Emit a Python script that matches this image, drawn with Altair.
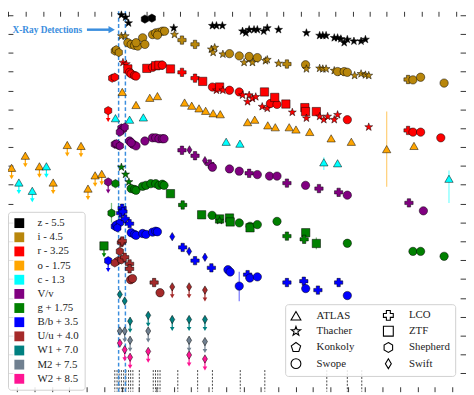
import altair as alt
import pandas as pd

# ---------------- axis / frame values ----------------
XMIN, XMAX = -0.525, 25.788          # days
YMIN, YMAX = 4.807, 24.964           # magnitude (offset)
BOTTOM_TICKS = list(range(0, 26))
TOP_TICKS = [-0.50, 0.49, 1.48, 2.47, 3.46, 4.44, 5.43, 6.42, 7.41, 8.40, 9.38, 10.37, 11.36,
             12.35, 13.34, 14.33, 15.31, 16.30, 17.29, 18.28, 19.27, 20.26, 21.24, 22.23,
             23.22, 24.21, 25.20]
MAG_TICKS = list(range(5, 25))

BAND_LABELS = ["z - 5.5", "i - 4.5", "r - 3.25", "o - 1.75", "c - 1.3", "V/v", "g + 1.75",
               "B/b + 3.5", "U/u + 4.0", "W1 + 7.0", "M2 + 7.5", "W2 + 8.5"]
BAND_COLORS = ["#000000", "#b8860b", "#ff0000", "#ffa500", "#00ffff", "#800080", "#008000",
               "#0000ff", "#a52a2a", "#008080", "#708090", "#ff1493"]

TEL_NAMES = {"A": "ATLAS", "T": "Thacher", "K": "Konkoly", "S": "Swope",
             "L": "LCO", "Z": "ZTF", "H": "Shepherd", "W": "Swift"}
LEGEND_ORDER = ["ATLAS", "Thacher", "Konkoly", "Swope", "LCO", "ZTF", "Shepherd", "Swift"]
SHAPE_PATHS = {
    "ATLAS": "triangle-up",
    "LCO": "cross",
    "Thacher": "M0,-1L0.235,-0.324L0.951,-0.309L0.380,0.124L0.588,0.809L0,0.4L-0.588,0.809L-0.380,0.124L-0.951,-0.309L-0.235,-0.324Z",
    "ZTF": "square",
    "Konkoly": "M0,-1L0.951,-0.309L0.588,0.809L-0.588,0.809L-0.951,-0.309Z",
    "Shepherd": "M0,-1L0.866,-0.5L0.866,0.5L0,1L-0.866,0.5L-0.866,-0.5Z",
    "Swope": "circle",
    "Swift": "M0,-1L0.6,0L0,1L-0.6,0Z",
}

# ---------------- photometry (day, mag, telescope) ----------------
Z_PTS = [(5.99, 5.00, "T"), (6.23, 5.12, "T"), (6.40, 5.43, "T"), (7.34, 5.22, "H"), (7.74, 5.17, "H"),
         (9.00, 5.69, "T"), (11.22, 5.57, "T"), (11.45, 5.57, "T"), (11.79, 5.57, "T"), (12.95, 5.86, "T"),
         (13.14, 5.95, "T"), (13.33, 5.78, "T"), (13.61, 5.78, "T"), (13.80, 5.78, "T"), (14.17, 5.86, "T"),
         (14.37, 5.69, "T"), (15.02, 5.78, "T"), (16.62, 5.95, "T"), (17.38, 6.09, "T"), (17.56, 6.09, "T"),
         (17.75, 6.09, "T"), (18.22, 6.21, "T"), (18.41, 6.21, "T"), (18.60, 6.27, "T"), (18.79, 6.47, "T"),
         (18.97, 6.30, "T"), (19.35, 6.39, "T"), (19.76, 6.39, "T"), (20.01, 6.30, "T")]
I_PTS = [(5.61, 6.91, "H"), (5.69, 6.84, "H"), (5.84, 6.99, "H"), (5.99, 6.12, "T"), (6.21, 6.12, "T"),
         (6.36, 6.47, "S"), (6.55, 6.56, "S"), (6.74, 6.61, "S"), (6.93, 6.65, "S"), (6.83, 6.47, "S"),
         (7.21, 6.21, "S"), (7.34, 6.56, "S"), (7.78, 6.04, "S"), (7.96, 5.95, "S"), (8.15, 5.92, "S"),
         (8.34, 5.86, "S"), (8.47, 5.86, "S"), (8.06, 6.07, "S"), (9.04, 6.04, "T"), (9.47, 6.33, "L"),
         (10.22, 6.56, "L"), (11.16, 6.82, "T"), (11.35, 6.73, "T"), (11.26, 6.99, "T"), (11.82, 7.08, "T"),
         (12.20, 7.05, "S"), (12.76, 7.17, "S"), (13.04, 7.52, "T"), (13.33, 7.34, "T"), (13.71, 7.34, "T"),
         (13.52, 7.52, "T"), (14.27, 7.43, "T"), (13.33, 7.20, "S"), (13.80, 7.26, "S"), (14.37, 7.37, "T"),
         (15.02, 7.57, "T"), (15.50, 7.60, "L"), (16.57, 7.64, "S"), (16.62, 7.86, "T"), (17.38, 7.83, "T"),
         (17.56, 7.86, "T"), (17.75, 7.86, "T"), (18.22, 7.95, "T"), (18.60, 8.04, "T"), (18.41, 8.00, "S"),
         (18.79, 8.00, "S"), (18.97, 8.04, "S"), (19.39, 8.21, "T"), (19.76, 8.12, "T"), (20.01, 8.18, "T"),
         (20.20, 8.21, "T"), (22.46, 8.42, "L"), (22.74, 8.44, "S"), (23.18, 8.30, "S"), (24.53, 8.61, "S")]
R_PTS = [(5.46, 8.35, "H"), (5.61, 8.30, "H"), (6.08, 7.52, "T"), (6.27, 7.60, "T"), (6.36, 7.86, "Z"),
         (6.46, 8.04, "S"), (6.55, 8.12, "S"), (6.74, 8.21, "S"), (6.83, 8.24, "S"), (7.45, 7.83, "Z"),
         (7.78, 7.78, "S"), (7.96, 7.69, "Z"), (8.15, 7.66, "Z"), (8.34, 7.66, "S"), (8.81, 7.86, "Z"),
         (9.47, 8.04, "L"), (10.22, 8.35, "L"), (10.66, 8.52, "Z"), (11.22, 8.82, "S"), (11.45, 8.99, "T"),
         (11.63, 8.82, "Z"), (11.82, 8.99, "T"), (12.20, 8.99, "S"), (12.76, 9.08, "S"), (12.95, 9.25, "T"),
         (13.33, 9.25, "T"), (13.52, 9.43, "T"), (13.71, 9.34, "T"), (13.24, 9.60, "T"), (14.21, 9.08, "Z"),
         (14.08, 9.86, "T"), (14.37, 9.95, "T"), (14.55, 9.69, "S"), (14.93, 9.74, "S"), (14.80, 9.37, "Z"),
         (15.44, 9.72, "Z"), (15.81, 10.16, "T"), (16.53, 9.91, "Z"), (16.57, 10.12, "Z"), (16.62, 10.47, "T"),
         (17.19, 10.12, "Z"), (17.38, 10.38, "T"), (17.62, 10.55, "T"), (17.84, 10.38, "T"), (18.22, 10.55, "T"),
         (18.41, 10.29, "T"), (18.97, 10.55, "S"), (20.20, 10.94, "T"), (22.46, 11.12, "L"), (22.74, 11.21, "S"),
         (23.18, 11.21, "S"), (24.34, 11.51, "S")]
O_PTS = [(6.04, 9.08, "A"), (6.83, 9.77, "A"), (7.62, 9.39, "A"), (8.06, 9.30, "A"), (9.62, 9.64, "A"),
         (10.03, 9.81, "A"), (10.45, 9.95, "A"), (10.83, 10.08, "A"), (11.26, 10.21, "A"), (11.67, 10.26, "A"),
         (13.24, 10.68, "A"), (13.65, 10.55, "A"), (14.40, 10.85, "A"), (14.83, 10.95, "A"), (15.63, 10.95, "A"),
         (16.02, 11.07, "A"), (16.81, 11.20, "A"), (18.04, 11.54, "A"), (19.20, 11.72, "A"), (21.23, 12.11, "A"),
         (22.80, 11.94, "A")]
C_PTS = [(5.65, 10.47, "A"), (6.46, 10.55, "A"), (7.25, 10.43, "A"), (12.01, 11.72, "A"), (12.80, 11.82, "A"),
         (17.62, 12.81, "A"), (18.41, 12.86, "A"), (24.81, 13.68, "A")]
V_PTS = [(5.99, 10.99, "H"), (6.08, 11.07, "H"), (5.90, 11.21, "H"), (6.18, 10.95, "H"), (5.61, 11.85, "H"),
         (5.80, 11.91, "H"), (5.70, 11.82, "H"), (5.90, 11.94, "H"), (6.46, 11.68, "S"), (6.65, 11.85, "S"),
         (6.83, 11.94, "S"), (6.55, 11.77, "S"), (7.34, 11.68, "S"), (7.78, 11.51, "S"), (7.96, 11.51, "S"),
         (8.15, 11.56, "S"), (8.34, 11.56, "S"), (8.44, 11.56, "S"), (9.47, 12.17, "L"), (9.90, 12.15, "W"),
         (10.22, 12.46, "L"), (10.79, 12.72, "W"), (11.07, 12.90, "L"), (11.22, 13.07, "S"), (12.20, 13.16, "S"),
         (12.76, 13.28, "S"), (13.33, 13.39, "L"), (13.80, 13.46, "S"), (14.50, 13.54, "S"), (14.93, 13.54, "S"),
         (15.50, 13.91, "L"), (16.57, 14.03, "S"), (17.34, 14.20, "L"), (18.47, 14.40, "L"), (18.97, 14.55, "S"),
         (22.51, 14.96, "L"), (23.34, 15.38, "S")]
G_PTS = [(5.99, 13.07, "T"), (6.23, 13.45, "T"), (6.42, 13.85, "T"), (5.65, 13.94, "H"), (5.42, 15.50, "H"),
         (6.55, 14.20, "S"), (6.74, 14.25, "S"), (6.83, 14.29, "S"), (7.21, 14.08, "S"), (7.40, 14.03, "S"),
         (7.68, 13.94, "S"), (7.96, 13.94, "S"), (8.15, 14.03, "S"), (8.34, 13.97, "S"), (8.44, 14.03, "S"),
         (8.81, 14.47, "Z"), (9.51, 15.07, "L"), (10.60, 15.59, "Z"), (11.20, 15.62, "S"), (11.63, 15.81, "Z"),
         (11.63, 15.90, "T"), (12.20, 15.76, "Z"), (12.24, 15.97, "Z"), (12.76, 16.02, "S"), (13.38, 16.20, "S"),
         (13.38, 16.28, "Z"), (13.80, 16.11, "S"), (14.93, 15.94, "S"), (15.50, 16.72, "L"), (16.58, 16.54, "Z"),
         (16.49, 16.89, "L"), (17.19, 17.11, "Z"), (18.97, 17.10, "S"), (22.74, 17.53, "S"), (23.18, 17.53, "S"),
         (24.53, 17.79, "S")]
B_PTS = [(5.61, 16.20, "H"), (5.70, 16.11, "H"), (5.90, 16.02, "H"), (5.76, 16.28, "H"), (6.03, 15.24, "L"),
         (5.95, 15.50, "L"), (6.08, 15.42, "L"), (6.21, 15.81, "L"), (6.46, 16.06, "L"), (6.55, 16.54, "S"),
         (6.74, 16.63, "S"), (6.83, 16.68, "S"), (7.21, 16.58, "S"), (7.40, 16.63, "S"), (7.78, 16.51, "S"),
         (7.96, 16.46, "S"), (8.06, 16.49, "S"), (8.91, 16.75, "W"), (9.51, 17.32, "L"), (9.88, 17.53, "W"),
         (10.22, 18.02, "L"), (10.79, 17.84, "W"), (11.16, 18.40, "L"), (12.11, 18.50, "S"), (12.24, 18.62, "S"),
         (12.76, 19.37, "S"), (13.24, 18.76, "L"), (13.37, 18.94, "S"), (13.80, 18.88, "S"), (15.50, 19.18, "L"),
         (16.47, 19.11, "L"), (18.47, 19.18, "L"), (16.58, 19.50, "S"), (17.28, 19.58, "L"), (18.97, 19.87, "S")]
U_PTS = [(5.99, 17.06, "L"), (6.04, 16.98, "L"), (5.90, 17.53, "H"), (5.80, 18.02, "H"), (5.61, 18.14, "H"),
         (5.99, 17.98, "H"), (6.18, 17.84, "L"), (6.46, 18.19, "L"), (6.46, 18.45, "L"), (6.52, 19.03, "S"),
         (6.63, 18.97, "S"), (7.87, 19.18, "L"), (8.21, 19.72, "S")]
W1_PTS = [(5.90, 19.81, "W"), (6.18, 20.16, "W")]
M2_PTS = [(5.90, 21.75, "W")]
W2_PTS = [(5.90, 22.39, "W")]

# ---------------- upper limits (day, mag, telescope) ----------------
R_UL = [(5.23, 10.07, "H")]
O_UL = [(-0.32, 13.10, "A"), (0.47, 12.46, "A"), (1.28, 13.02, "A"), (2.07, 13.88, "A"), (2.88, 11.89, "A"),
        (3.67, 11.94, "A"), (4.07, 14.20, "A"), (4.48, 13.50, "A"), (4.86, 13.42, "A")]
C_UL = [(0.10, 13.88, "A"), (0.87, 14.32, "A"), (1.68, 13.02, "A")]
V_UL = [(5.23, 13.85, "H")]
G_UL = [(4.99, 17.24, "Z")]
B_UL = [(5.23, 18.02, "H")]
U_UL = [(8.91, 19.41, "W"), (9.88, 19.41, "W"), (10.79, 19.58, "W")]
W1_UL = [(6.49, 21.23, "W"), (7.53, 20.92, "W"), (8.91, 21.14, "W"), (9.88, 21.14, "W"), (10.79, 21.14, "W")]
M2_UL = [(6.18, 21.75, "W"), (6.49, 22.24, "W"), (7.53, 21.75, "W"), (9.88, 22.24, "W"), (10.79, 22.31, "W")]
W2_UL = [(6.18, 22.74, "W"), (6.49, 23.14, "W"), (7.53, 22.83, "W"), (9.88, 23.02, "W"), (10.79, 23.23, "W")]

# ---------------- error bars (band, day, low, high) ----------------
ERRORS = [("o - 1.75", 21.23, 10.12, 14.11), ("c - 1.3", 17.62, 12.54, 13.22), ("c - 1.3", 24.81, 13.24, 14.96),
          ("g + 1.75", 5.42, 14.96, 16.00), ("g + 1.75", 17.19, 16.79, 17.41), ("B/b + 3.5", 12.76, 18.61, 20.17)]

XRAY_DAYS = [5.83, 6.22]
SPEC_DAYS = [5.61, 5.74, 5.86, 5.99, 6.12, 6.25, 6.40, 6.52, 6.65, 7.02, 7.82, 7.95, 8.08, 8.21,
             9.23, 10.37, 11.22, 12.82, 14.23, 17.79, 18.97, 19.80]
SPEC_TOP = 23.82
UL_LEN = 0.5

ANNOT_TEXT = "X-Ray Detections"
ANNOT_POS = (1.73, 5.78)
ARROW_X = (4.01, 5.29, 5.43)
BLUE = "#3b8ede"

# ---------------- tables ----------------
DET = dict(zip(BAND_LABELS, [Z_PTS, I_PTS, R_PTS, O_PTS, C_PTS, V_PTS, G_PTS, B_PTS, U_PTS,
                             W1_PTS, M2_PTS, W2_PTS]))
ULS = dict(zip(BAND_LABELS, [[], [], R_UL, O_UL, C_UL, V_UL, G_UL, B_UL, U_UL, W1_UL, M2_UL, W2_UL]))

pt_rows, ul_rows = [], []
for band in BAND_LABELS:
    for d, m, t in DET[band]:
        pt_rows.append({"day": d, "mag": m, "band": band, "tel": TEL_NAMES[t]})
    for d, m, t in ULS[band]:
        pt_rows.append({"day": d, "mag": m, "band": band, "tel": TEL_NAMES[t]})
        ul_rows.append({"day": d, "mag": m, "mag_end": m + UL_LEN, "band": band})
df_pts = pd.DataFrame(pt_rows)
df_ul = pd.DataFrame(ul_rows)
df_err = pd.DataFrame(ERRORS, columns=["band", "day", "lo", "hi"])
df_x = pd.DataFrame({"day": XRAY_DAYS})
df_spec = pd.DataFrame({"day": SPEC_DAYS, "y0": SPEC_TOP, "y1": YMAX})
df_ann = pd.DataFrame({"day": [ANNOT_POS[0]], "mag": [ANNOT_POS[1]], "text": [ANNOT_TEXT]})
df_arrow = pd.DataFrame({"x0": [ARROW_X[0]], "x1": [ARROW_X[1]], "xh": [ARROW_X[2]], "mag": [ANNOT_POS[1]]})

xs = alt.Scale(domain=[XMIN, XMAX], nice=False, zero=False)
ys = alt.Scale(domain=[YMIN, YMAX], nice=False, zero=False, reverse=True)
color_scale = alt.Scale(domain=BAND_LABELS, range=BAND_COLORS)
shape_scale = alt.Scale(domain=LEGEND_ORDER, range=[SHAPE_PATHS[t] for t in LEGEND_ORDER])

tick_ax = dict(labels=False, domain=False, grid=False, ticks=True, title=None,
               tickColor="black", tickWidth=0.8)
FONT = "Liberation Serif"
frame = dict(fillColor="rgba(255,255,255,0.85)", strokeColor="#d0d0d0", cornerRadius=3)

color_legend = alt.Legend(
    orient="none", legendX=0, legendY=204, title=None, symbolType="square", symbolSize=100,
    symbolStrokeWidth=0, symbolOpacity=1, labelFont=FONT, labelFontSize=11, labelColor="#222222",
    labelOffset=13, rowPadding=2.4, padding=6, **frame)
band_color = alt.Color("band:N", scale=color_scale, legend=color_legend)

spec = alt.Chart(df_spec).mark_rule(color="#444444", strokeDash=[2, 1.5], strokeWidth=1).encode(
    x=alt.X("day:Q", scale=xs, axis=None),
    y=alt.Y("y0:Q", scale=ys, axis=None), y2="y1:Q")

xray = alt.Chart(df_x).mark_rule(color=BLUE, strokeDash=[4, 2.5], strokeWidth=1.5).encode(
    x=alt.X("day:Q", scale=xs, axis=None))

err = alt.Chart(df_err).mark_rule(strokeWidth=1.3, opacity=0.5).encode(
    x=alt.X("day:Q", scale=xs, axis=alt.Axis(orient="top", values=TOP_TICKS, tickSize=5, offset=-5, **tick_ax)),
    y=alt.Y("lo:Q", scale=ys, axis=alt.Axis(orient="right", values=MAG_TICKS, tickSize=6, offset=-6, **tick_ax)),
    y2="hi:Q",
    color=band_color)

ul_line = alt.Chart(df_ul).mark_rule(strokeWidth=1.2).encode(
    x=alt.X("day:Q", scale=xs, axis=None),
    y=alt.Y("mag:Q", scale=ys, axis=None), y2="mag_end:Q",
    color=band_color)

ul_head = alt.Chart(df_ul).mark_point(shape="triangle-down", filled=True, size=22, opacity=1).encode(
    x=alt.X("day:Q", scale=xs, axis=None),
    y=alt.Y("mag_end:Q", scale=ys, axis=None),
    color=band_color)

pts = alt.Chart(df_pts).mark_point(filled=True, size=72, stroke="black", strokeWidth=0.5, opacity=1).encode(
    x=alt.X("day:Q", scale=xs, axis=alt.Axis(orient="bottom", values=BOTTOM_TICKS, tickSize=5, offset=-5, **tick_ax)),
    y=alt.Y("mag:Q", scale=ys, axis=alt.Axis(orient="left", values=MAG_TICKS, tickSize=5, offset=-5, **tick_ax)),
    color=band_color,
    shape=alt.Shape("tel:N", scale=shape_scale, legend=alt.Legend(
        orient="none", legendX=282, legendY=298, title=None, columns=2, columnPadding=26, rowPadding=0.5,
        symbolSize=100, symbolFillColor="white", symbolStrokeColor="black", symbolStrokeWidth=1.1,
        labelFont=FONT, labelFontSize=11, labelColor="#222222", labelOffset=15, padding=5, **frame)))

ann = alt.Chart(df_ann).mark_text(font=FONT, fontSize=9.5, fontWeight="bold", color=BLUE,
                                   align="center", baseline="middle").encode(
    x=alt.X("day:Q", scale=xs, axis=None), y=alt.Y("mag:Q", scale=ys, axis=None), text="text:N")

arrow = alt.Chart(df_arrow).mark_rule(color=BLUE, strokeWidth=2.5).encode(
    x=alt.X("x0:Q", scale=xs, axis=None), x2="x1:Q", y=alt.Y("mag:Q", scale=ys, axis=None))
arrow_head = alt.Chart(df_arrow).mark_point(shape="triangle-right", filled=True, size=55,
                                            color=BLUE, opacity=1).encode(
    x=alt.X("xh:Q", scale=xs, axis=None), y=alt.Y("mag:Q", scale=ys, axis=None))

chart = alt.layer(spec, xray, err, ul_line, ul_head, pts, ann, arrow, arrow_head).resolve_axis(
    x="independent", y="independent"
).properties(
    width=466, height=387, padding=0, autosize=alt.AutoSizeParams(type="none"),
    background="white"
).configure_view(stroke=None)

chart.save("out.html", embed_options={"renderer": "svg", "actions": False})
